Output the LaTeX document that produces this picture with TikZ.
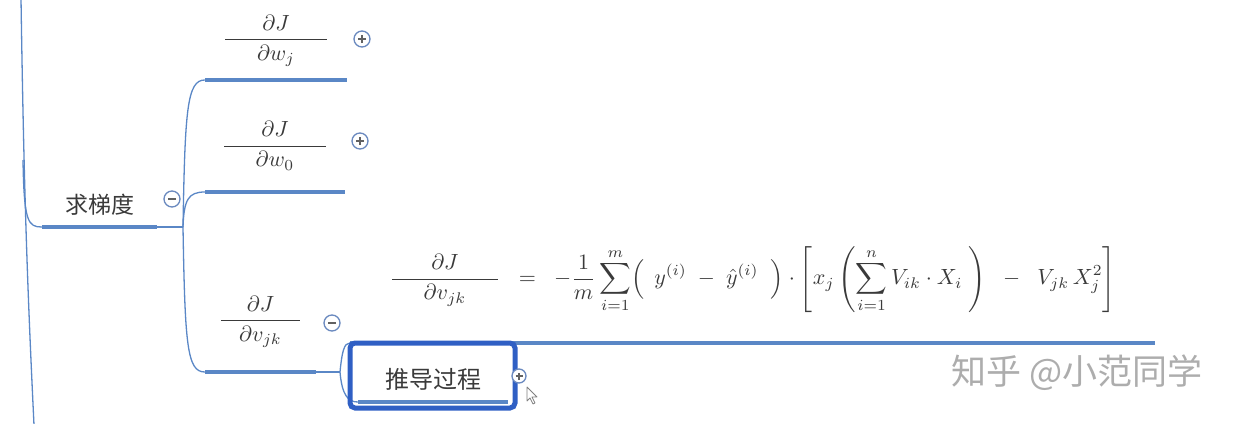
\documentclass[tikz,border=0pt]{standalone}
\usepackage{fontspec}
\usepackage{graphicx}
\usepackage{amsmath}
\newfontfamily\cjk{Noto Sans CJK SC}
\definecolor{branch}{HTML}{5A87C6}
\definecolor{circ}{HTML}{6A89BF}
\definecolor{selbox}{HTML}{2F5FC4}
\definecolor{wm}{HTML}{ADADAD}
\definecolor{ink}{HTML}{3A3A3A}
\begin{document}
\begin{tikzpicture}[x=1pt,y=-1pt,
  thinbranch/.style={draw=branch, line width=1.3pt},
  underline/.style={draw=branch, line width=4pt},
  topic/.style={inner sep=0pt, anchor=south, text=ink},
  toggle/.style={circle, draw=circ, fill=white, line width=1.3pt, minimum size=16pt, inner sep=0pt},
  sign/.style={draw=ink!80, line width=1.6pt},
  cjktext/.style={font=\cjk\fontsize{23}{27}\selectfont},
]
\useasboundingbox (0,0) rectangle (1242,423);
% root line
\coordinate (r0) at (21,-2);
\coordinate (r1) at (34,425);
\coordinate (r2) at (23,160);
\draw[thinbranch] (r0) .. controls (24,200) and (28,300) .. (r1);
% topics
\node[topic, cjktext, minimum width=115pt, minimum height=44pt] (t0) at (99.5,227) {求梯度};
\node[topic, minimum width=142pt, minimum height=78pt] (t1) at (276,80)
  {\scalebox{2.2}{$\dfrac{\makebox[46pt]{$\partial J$}}{\partial w_j}$}};
\node[topic, minimum width=140pt, minimum height=92pt] (t2) at (275,192)
  {\scalebox{2.2}{$\dfrac{\makebox[46pt]{$\partial J$}}{\partial w_0}$}};
\node[topic, minimum width=111pt, minimum height=100pt] (t3) at (260.5,372)
  {\scalebox{2.2}{$\dfrac{\makebox[36pt]{$\partial J$}}{\partial v_{jk}}$}};
\node[topic, minimum width=805pt, minimum height=124pt] (t4) at (752.5,343)
  {\scalebox{2.2}{$\displaystyle \frac{\makebox[48pt]{$\partial J$}}{\partial v_{jk}}\;\;=\;\;-\frac{1}{m}\sum_{i=1}^{m}\Bigl(\;\,y^{(i)}\;-\;\hat{y}^{(i)}\;\;\Bigr)\cdot\left[x_j\left(\sum_{i=1}^{n}V_{ik}\cdot X_i\;\right)\;\;-\;\;V_{jk}\,X_j^2\rule[-3.2ex]{0pt}{6.4ex}\right]$}};
\node[topic, cjktext, font=\cjk\fontsize{24}{28}\selectfont, minimum width=150pt, minimum height=44pt] (t5) at (433,402) {推导过程};
% underlines
\draw[underline] (t0.south west) -- (t0.south east);
\draw[underline] (t1.south west) -- (t1.south east);
\draw[underline] (t2.south west) -- (t2.south east);
\draw[underline] (t3.south west) -- (t3.south east);
\draw[underline] (t4.south west) -- (t4.south east);
\draw[underline] (t5.south west) -- (t5.south east);
% connectors
\coordinate (j0) at (183,227);
\coordinate (j1) at (340,372);
\draw[thinbranch] (r2) .. controls (24,222) and (28,227) .. (t0.south west);
\draw[thinbranch] (t0.south east) -- (j0);
\draw[thinbranch] (j0) .. controls (185,110) and (187,80) .. (t1.south west);
\draw[thinbranch] (j0) .. controls (184,200) and (188,192) .. (t2.south west);
\draw[thinbranch] (j0) .. controls (185,345) and (187,372) .. (t3.south west);
\draw[thinbranch] (t3.south east) -- (j1);
\draw[thinbranch] (j1) .. controls (342,352) and (344,343) .. (t4.south west);
\draw[thinbranch] (j1) .. controls (342,395) and (348,402) .. (t5.south west);
% selection box
\node[draw=selbox, line width=5pt, rounded corners=5pt, minimum width=165pt, minimum height=65pt] (sel) at (432.5,375.5) {};
% toggles
\node[toggle] (c0) at (172,199) {};
\node[toggle] (c1) at (362,39) {};
\node[toggle] (c2) at (360,141) {};
\node[toggle] (c3) at (332,323) {};
\node[toggle, minimum size=14pt] (c5) at (519,376) {};
\draw[sign] ([xshift=-4pt]c0.center) -- ([xshift=4pt]c0.center);
\draw[sign] ([xshift=-4pt]c3.center) -- ([xshift=4pt]c3.center);
\draw[sign] ([xshift=-4pt]c1.center) -- ([xshift=4pt]c1.center) ([yshift=-4pt]c1.center) -- ([yshift=4pt]c1.center);
\draw[sign] ([xshift=-4pt]c2.center) -- ([xshift=4pt]c2.center) ([yshift=-4pt]c2.center) -- ([yshift=4pt]c2.center);
\draw[sign, line width=1.3pt] ([xshift=-3.5pt]c5.center) -- ([xshift=3.5pt]c5.center) ([yshift=-3.5pt]c5.center) -- ([yshift=3.5pt]c5.center);
% cursor
\coordinate (cur) at (527,387);
\draw[fill=white, draw=gray, line width=0.8pt, line join=round] (cur) -- ++(0,14) -- ++(3,-3) -- ++(3,6) -- ++(2,-1) -- ++(-3,-6) -- ++(5,0) -- cycle;
% watermark
\node[text=wm, font=\cjk\fontsize{35}{38}\selectfont] (wm) at (1077,373) {知乎 @小范同学};
\end{tikzpicture}
\end{document}
